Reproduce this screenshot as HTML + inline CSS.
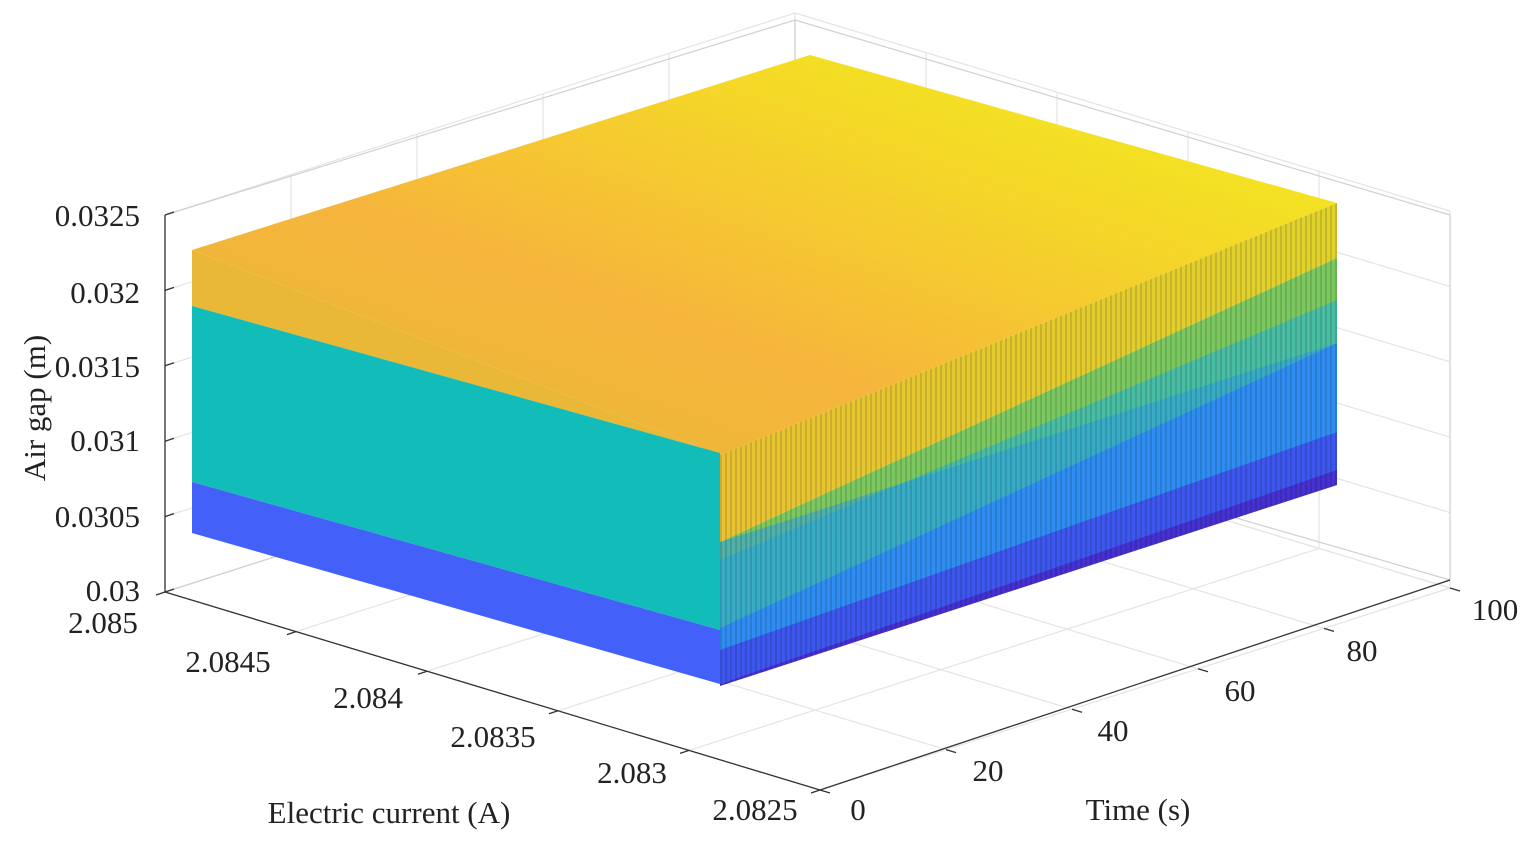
<!DOCTYPE html>
<html><head><meta charset="utf-8"><style>
html,body{margin:0;padding:0;background:#fff}
svg{display:block}
text{font-family:"Liberation Serif",serif;font-size:31px;fill:#222}
</style></head><body>
<svg id="s" width="1535" height="842" viewBox="0 0 1535 842" xmlns="http://www.w3.org/2000/svg">
<defs>
<linearGradient id="top" x1="0.1" y1="0.9" x2="0.9" y2="0.1">
<stop offset="0" stop-color="#e9b838"/><stop offset="0.35" stop-color="#f6b53c"/><stop offset="0.7" stop-color="#f5d42a"/><stop offset="1" stop-color="#f3ea1e"/></linearGradient>
<linearGradient id="ry" x1="0" y1="0" x2="1" y2="0">
<stop offset="0" stop-color="#e8c232"/><stop offset="1" stop-color="#e0d22c"/></linearGradient>
<pattern id="str" width="5" height="10" patternUnits="userSpaceOnUse">
<rect x="0" y="0" width="2" height="10" fill="#000" opacity="0.12"/></pattern>
</defs>
<g id="grid" stroke="#e4e4e4" stroke-width="1.2" fill="none"></g>
<g id="box" stroke="#d0d0d0" stroke-width="1.2" fill="none">
<polyline points="165,215 795,20 1450,215 1450,580"/>
<line x1="795" y1="20" x2="795" y2="390"/>
<line x1="795" y1="390" x2="165" y2="592"/>
<line x1="795" y1="390" x2="1450" y2="580"/>
</g>
<polygon points="192,250 810,55 1337,203 720,455" fill="url(#top)"/>
<polygon points="192,250 720,455 720,453 192,306" fill="#e8b836"/>
<polygon points="192,306 720,453 720,630 192,482" fill="#12bcb8"/>
<polygon points="192,482 720,630 720,684 192,533" fill="#4361f8"/>
<polygon points="720,455 1337,203 1337,258 720,542" fill="url(#ry)"/>
<polygon points="720,542 1337,258 1337,343 720,628" fill="#7cc860"/>
<polygon points="720,560 1337,300 1337,343 720,628" fill="#33b8c0" opacity="0.7"/>
<polygon points="720,542 1337,343 1337,432 720,628" fill="#2a9fe4" opacity="0.55"/>
<polygon points="720,628 1337,343 1337,432 720,684" fill="#2f8cf0"/>
<polygon points="720,650 1337,432 1337,485 720,684" fill="#3c56ee"/>
<polygon points="720,684 1337,470 1337,485 720,686" fill="#4530d0"/>
<polygon points="720,455 1337,203 1337,485 720,686" fill="url(#str)"/>
<g id="axes" stroke="#333" stroke-width="1.3" fill="none">
<line x1="165" y1="215" x2="165" y2="592"/>
<line x1="165" y1="592" x2="820" y2="790"/>
<line x1="820" y1="790" x2="1450" y2="580"/>
</g>
<g id="ticks" stroke="#333" stroke-width="1.3"></g>
<g text-anchor="end">
<text x="140" y="226">0.0325</text>
<text x="140" y="303">0.032</text>
<text x="140" y="377">0.0315</text>
<text x="140" y="451">0.031</text>
<text x="140" y="527">0.0305</text>
<text x="140" y="601">0.03</text>
</g>
<g text-anchor="middle">
<text x="103" y="633">2.085</text>
<text x="228" y="672">2.0845</text>
<text x="368" y="708">2.084</text>
<text x="493" y="747">2.0835</text>
<text x="632" y="783">2.083</text>
<text x="755" y="820">2.0825</text>
<text x="858" y="820">0</text>
<text x="988" y="781">20</text>
<text x="1113" y="741">40</text>
<text x="1240" y="701">60</text>
<text x="1362" y="661">80</text>
<text x="1495" y="620">100</text>
<text x="389" y="823" font-size="36">Electric current (A)</text>
<text x="1138" y="820" font-size="36">Time (s)</text>
<text transform="translate(45,408) rotate(-90)" font-size="36">Air gap (m)</text>
</g>
</svg>
<script>
var ox=165,oy=592,cx=131,cy=39.6,tx=126,ty=-40.4,zz=-75.4;
function P(c,t,z){return [ox+c*cx+t*tx,oy+c*cy+t*ty+z*zz];}
var g=document.getElementById('grid'),k=document.getElementById('ticks'),ns='http://www.w3.org/2000/svg';
function L(par,a,b){var l=document.createElementNS(ns,'line');l.setAttribute('x1',a[0]);l.setAttribute('y1',a[1]);l.setAttribute('x2',b[0]);l.setAttribute('y2',b[1]);par.appendChild(l);}
for(var i=0;i<=5;i++){
 L(g,P(i,0,0),P(i,5,0)); L(g,P(0,i,0),P(5,i,0));
 L(g,P(0,i,0),P(0,i,5)); L(g,P(0,5,i),P(0,0,i));
 L(g,P(i,5,0),P(i,5,5)); L(g,P(0,5,i),P(5,5,i));
 var a=P(i,0,0);L(k,a,[a[0]-9,a[1]+3]);
 var b=P(5,i,0);L(k,b,[b[0]+10,b[1]+3]);
 var c=P(0,0,i);L(k,c,[c[0]+9,c[1]-3]);
}
</script>
</body></html>
